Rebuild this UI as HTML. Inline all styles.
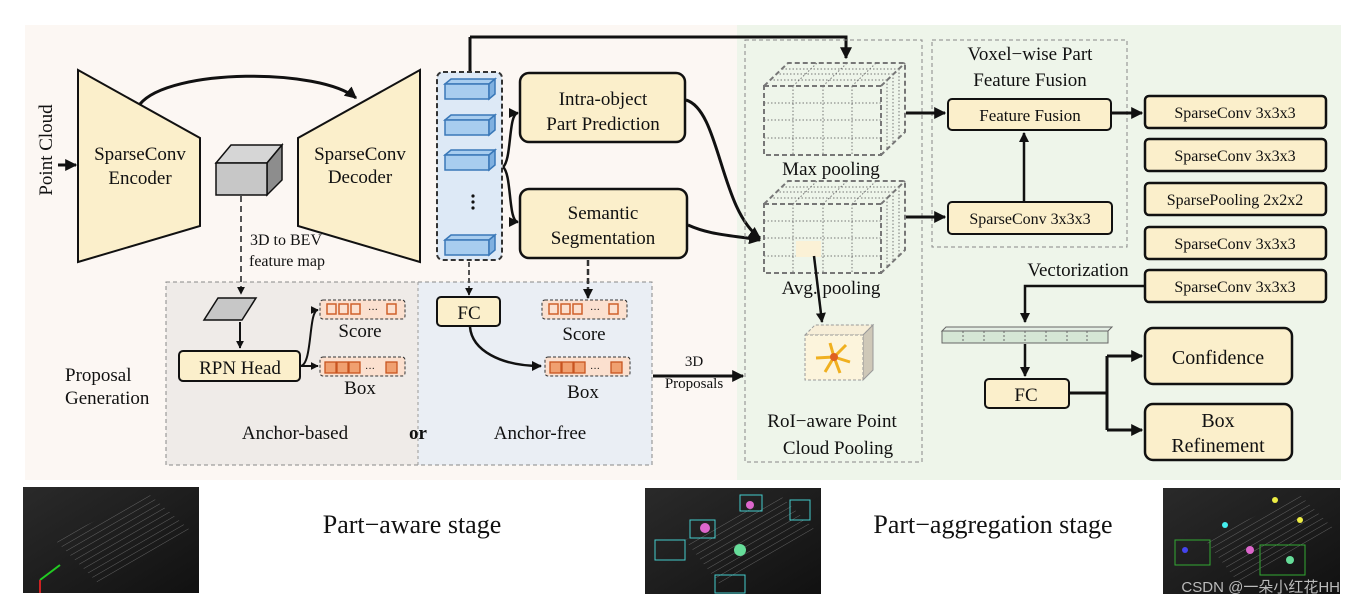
<!DOCTYPE html>
<html><head><meta charset="utf-8"><style>
html,body{margin:0;padding:0;background:#fff;width:1355px;height:608px;overflow:hidden}
svg text{font-family:"Liberation Serif","Noto Serif CJK SC",serif;fill:#111}
</style></head><body>
<svg width="1355" height="608" viewBox="0 0 1355 608" xmlns="http://www.w3.org/2000/svg">
<defs>
<marker id="a" viewBox="0 0 10 10" refX="9" refY="5" markerWidth="4" markerHeight="4" orient="auto"><path d="M0,0L10,5L0,10z" fill="#111"/></marker>
<linearGradient id="blk" x1="0" y1="0" x2="1" y2="1"><stop offset="0" stop-color="#2a2a2a"/><stop offset="1" stop-color="#111"/></linearGradient>
<pattern id="pc" width="6" height="6" patternUnits="userSpaceOnUse" patternTransform="rotate(-30)"><line x1="0" y1="0" x2="6" y2="0" stroke="#9a9a9a" stroke-width="1"/></pattern>
</defs>
<rect x="25" y="25" width="712" height="455" fill="#fcf7f3"/>
<rect x="737" y="25" width="604" height="455" fill="#eef5ea"/>
<rect x="166" y="282" width="252" height="183" fill="#efebe8"/>
<rect x="418" y="282" width="234" height="183" fill="#eaeef4"/>
<rect x="166" y="282" width="486" height="183" fill="none" stroke="#888" stroke-dasharray="4,3"/>
<line x1="418" y1="282" x2="418" y2="465" stroke="#999" stroke-dasharray="3,3"/>
<text transform="translate(52,150) rotate(-90)" text-anchor="middle" font-size="19">Point Cloud</text>
<line x1="58" y1="165" x2="76" y2="165" stroke="#111" stroke-width="3" marker-end="url(#a)"/>
<polygon points="78,70 200,138 200,226 78,262" fill="#fbefcb" stroke="#111" stroke-width="2"/>
<text x="140" y="160" text-anchor="middle" font-size="19">SparseConv</text>
<text x="140" y="184" text-anchor="middle" font-size="19">Encoder</text>
<polygon points="420,70 298,138 298,226 420,262" fill="#fbefcb" stroke="#111" stroke-width="2"/>
<text x="360" y="160" text-anchor="middle" font-size="19">SparseConv</text>
<text x="360" y="183" text-anchor="middle" font-size="19">Decoder</text>
<path d="M140,104 C170,68 320,68 356,98" fill="none" stroke="#111" stroke-width="3" marker-end="url(#a)"/>
<polygon points="216,163 231,145 282,145 267,163" fill="#d6d6d6" stroke="#111" stroke-width="1.5"/>
<polygon points="267,163 282,145 282,180 267,195" fill="#8d8d8d" stroke="#111" stroke-width="1.5"/>
<rect x="216" y="163" width="51" height="32" fill="#c7c7c7" stroke="#111" stroke-width="1.5"/>
<line x1="241" y1="196" x2="241" y2="294" stroke="#555" stroke-width="2" stroke-dasharray="6,4" marker-end="url(#a)"/>
<text x="250" y="245" font-size="16">3D to BEV</text>
<text x="249" y="266" font-size="16">feature map</text>
<polygon points="218,298 256,298 242,320 204,320" fill="#c7c7c7" stroke="#111" stroke-width="1.5"/>
<line x1="240" y1="322" x2="240" y2="348" stroke="#111" stroke-width="2" marker-end="url(#a)"/>
<rect x="179" y="351" width="121" height="30" rx="4" fill="#fbefcb" stroke="#111" stroke-width="2"/>
<text x="240" y="374" text-anchor="middle" font-size="19">RPN Head</text>
<path d="M300,366 C313,366 308,310 318,310" fill="none" stroke="#111" stroke-width="2" marker-end="url(#a)"/>
<line x1="300" y1="366" x2="318" y2="366" stroke="#111" stroke-width="2" marker-end="url(#a)"/>
<rect x="320" y="300" width="85" height="19" rx="3" fill="#fbe0cf" stroke="#333" stroke-dasharray="3,2"/>
<g fill="none" stroke="#d0602a" stroke-width="1.5"><rect x="327" y="304" width="9" height="10"/><rect x="339" y="304" width="9" height="10"/><rect x="351" y="304" width="9" height="10"/><rect x="387" y="304" width="9" height="10"/></g>
<text x="368" y="313" font-size="10">···</text>
<text x="360" y="337" text-anchor="middle" font-size="19">Score</text>
<rect x="320" y="357" width="85" height="19" rx="3" fill="#fbe0cf" stroke="#333" stroke-dasharray="3,2"/>
<g fill="#f0a070" stroke="#c85520" stroke-width="1.3"><rect x="325" y="362" width="11" height="11"/><rect x="337" y="362" width="11" height="11"/><rect x="349" y="362" width="11" height="11"/><rect x="386" y="362" width="11" height="11"/></g>
<text x="365" y="372" font-size="10">···</text>
<text x="360" y="394" text-anchor="middle" font-size="19">Box</text>
<text x="65" y="381" font-size="19">Proposal</text>
<text x="65" y="404" font-size="19">Generation</text>
<text x="295" y="439" text-anchor="middle" font-size="19">Anchor-based</text>
<text x="418" y="439" text-anchor="middle" font-size="19" font-weight="bold">or</text>
<text x="540" y="439" text-anchor="middle" font-size="19">Anchor-free</text>
<line x1="470" y1="72" x2="470" y2="37" stroke="#111" stroke-width="3"/>
<polyline points="470,37 846,37 846,58" fill="none" stroke="#111" stroke-width="3" marker-end="url(#a)"/>
<rect x="437" y="72" width="65" height="188" rx="6" fill="#dde9f6" stroke="#333" stroke-width="2" stroke-dasharray="5,3"/>
<g fill="#a8cdef" stroke="#3a78b8" stroke-width="1.5">
<polygon points="445,84 451,79 495,79 489,84"/><rect x="445" y="84" width="44" height="15"/><polygon points="489,84 495,79 495,94 489,99" fill="#7fb0e0"/>
<polygon points="445,120 451,115 495,115 489,120"/><rect x="445" y="120" width="44" height="15"/><polygon points="489,120 495,115 495,130 489,135" fill="#7fb0e0"/>
<polygon points="445,155 451,150 495,150 489,155"/><rect x="445" y="155" width="44" height="15"/><polygon points="489,155 495,150 495,165 489,170" fill="#7fb0e0"/>
<polygon points="445,240 451,235 495,235 489,240"/><rect x="445" y="240" width="44" height="15"/><polygon points="489,240 495,235 495,250 489,255" fill="#7fb0e0"/>
</g>
<circle cx="473" cy="196" r="1.6" fill="#111"/><circle cx="473" cy="202" r="1.6" fill="#111"/><circle cx="473" cy="208" r="1.6" fill="#111"/>
<path d="M503,167 C512,160 508,113 518,113" fill="none" stroke="#111" stroke-width="2.5" marker-end="url(#a)"/>
<path d="M503,167 C512,174 508,222 518,222" fill="none" stroke="#111" stroke-width="2.5" marker-end="url(#a)"/>
<rect x="520" y="73" width="165" height="69" rx="9" fill="#fbefcb" stroke="#111" stroke-width="2.5"/>
<text x="603" y="105" text-anchor="middle" font-size="19">Intra-object</text>
<text x="603" y="130" text-anchor="middle" font-size="19">Part Prediction</text>
<rect x="520" y="189" width="167" height="69" rx="9" fill="#fbefcb" stroke="#111" stroke-width="2.5"/>
<text x="603" y="219" text-anchor="middle" font-size="19">Semantic</text>
<text x="603" y="244" text-anchor="middle" font-size="19">Segmentation</text>
<line x1="469" y1="262" x2="469" y2="295" stroke="#555" stroke-width="2" stroke-dasharray="5,3" marker-end="url(#a)"/>
<rect x="437" y="297" width="63" height="29" rx="4" fill="#fbefcb" stroke="#111" stroke-width="2"/>
<text x="469" y="319" text-anchor="middle" font-size="19">FC</text>
<line x1="588" y1="260" x2="588" y2="298" stroke="#333" stroke-width="2.5" stroke-dasharray="6,3" marker-end="url(#a)"/>
<rect x="542" y="300" width="85" height="19" rx="3" fill="#fbe0cf" stroke="#333" stroke-dasharray="3,2"/>
<g fill="none" stroke="#d0602a" stroke-width="1.5"><rect x="549" y="304" width="9" height="10"/><rect x="561" y="304" width="9" height="10"/><rect x="573" y="304" width="9" height="10"/><rect x="609" y="304" width="9" height="10"/></g>
<text x="590" y="313" font-size="10">···</text>
<text x="584" y="340" text-anchor="middle" font-size="19">Score</text>
<path d="M470,327 C472,350 500,366 541,366" fill="none" stroke="#111" stroke-width="2.5" marker-end="url(#a)"/>
<rect x="545" y="357" width="85" height="19" rx="3" fill="#fbe0cf" stroke="#333" stroke-dasharray="3,2"/>
<g fill="#f0a070" stroke="#c85520" stroke-width="1.3"><rect x="550" y="362" width="11" height="11"/><rect x="562" y="362" width="11" height="11"/><rect x="574" y="362" width="11" height="11"/><rect x="611" y="362" width="11" height="11"/></g>
<text x="590" y="372" font-size="10">···</text>
<text x="583" y="398" text-anchor="middle" font-size="19">Box</text>
<line x1="653" y1="376" x2="743" y2="376" stroke="#111" stroke-width="3" marker-end="url(#a)"/>
<text x="694" y="366" text-anchor="middle" font-size="15">3D</text>
<text x="694" y="388" text-anchor="middle" font-size="15">Proposals</text>
<path d="M686,100 C720,110 720,210 760,238" fill="none" stroke="#111" stroke-width="3" marker-end="url(#a)"/>
<path d="M688,225 C710,235 730,235 760,240" fill="none" stroke="#111" stroke-width="3" marker-end="url(#a)"/>
<rect x="745" y="40" width="177" height="422" fill="none" stroke="#888" stroke-dasharray="4,3"/>
<rect x="932" y="40" width="195" height="207" fill="none" stroke="#888" stroke-dasharray="4,3"/>
<g id="cube1" fill="none" stroke="#777">
<g stroke-width="2" stroke-dasharray="5,3">
<rect x="764" y="86" width="117" height="69"/>
<polyline points="764,86 788,63 905,63 905,132 881,155"/>
<line x1="881" y1="86" x2="905" y2="63"/>
</g>
<g stroke-width="1" stroke-dasharray="1.5,2">
<line x1="793" y1="86" x2="793" y2="155"/><line x1="823" y1="86" x2="823" y2="155"/><line x1="852" y1="86" x2="852" y2="155"/>
<line x1="764" y1="103" x2="881" y2="103"/><line x1="764" y1="120" x2="881" y2="120"/><line x1="764" y1="138" x2="881" y2="138"/>
<line x1="770" y1="80" x2="887" y2="80"/><line x1="776" y1="74" x2="893" y2="74"/><line x1="782" y1="69" x2="899" y2="69"/>
<line x1="793" y1="86" x2="817" y2="63"/><line x1="823" y1="86" x2="847" y2="63"/><line x1="852" y1="86" x2="876" y2="63"/>
<line x1="887" y1="80" x2="887" y2="149"/><line x1="893" y1="74" x2="893" y2="143"/><line x1="899" y1="69" x2="899" y2="138"/>
</g></g>
<use href="#cube1" y="118"/>
<rect x="796" y="241" width="25" height="16" fill="#fbf1d6"/>
<text x="831" y="175" text-anchor="middle" font-size="19">Max pooling</text>
<text x="831" y="294" text-anchor="middle" font-size="19">Avg. pooling</text>
<line x1="814" y1="256" x2="822" y2="322" stroke="#111" stroke-width="2.5" marker-end="url(#a)"/>
<polygon points="805,335 815,325 873,325 863,335" fill="#f7eed8" stroke="#999" stroke-dasharray="3,2"/>
<polygon points="863,335 873,325 873,370 863,380" fill="#cfc8b8" stroke="#999"/>
<rect x="805" y="335" width="58" height="45" fill="#fcf4dc" stroke="#999" stroke-dasharray="3,2"/>
<g stroke="#f0b020" stroke-width="3"><line x1="834" y1="357" x2="816" y2="358"/><line x1="834" y1="357" x2="846" y2="345"/><line x1="834" y1="357" x2="850" y2="362"/><line x1="834" y1="357" x2="825" y2="372"/><line x1="834" y1="357" x2="840" y2="373"/><line x1="834" y1="357" x2="830" y2="343"/></g>
<circle cx="834" cy="357" r="4" fill="#e06020"/>
<text x="832" y="427" text-anchor="middle" font-size="19">RoI−aware Point</text>
<text x="838" y="454" text-anchor="middle" font-size="19">Cloud Pooling</text>
<text x="1030" y="60" text-anchor="middle" font-size="19">Voxel−wise Part</text>
<text x="1030" y="86" text-anchor="middle" font-size="19">Feature Fusion</text>
<line x1="906" y1="113" x2="945" y2="113" stroke="#111" stroke-width="3" marker-end="url(#a)"/>
<line x1="906" y1="217" x2="945" y2="217" stroke="#111" stroke-width="3" marker-end="url(#a)"/>
<rect x="948" y="99" width="163" height="31" rx="4" fill="#fbefcb" stroke="#111" stroke-width="2"/>
<text x="1030" y="121" text-anchor="middle" font-size="17">Feature Fusion</text>
<rect x="948" y="202" width="164" height="32" rx="4" fill="#fbefcb" stroke="#111" stroke-width="2"/>
<text x="1030" y="224" text-anchor="middle" font-size="16">SparseConv 3x3x3</text>
<line x1="1024" y1="201" x2="1024" y2="133" stroke="#111" stroke-width="2.5" marker-end="url(#a)"/>
<line x1="1111" y1="113" x2="1142" y2="113" stroke="#111" stroke-width="3" marker-end="url(#a)"/>
<g fill="#fbefcb" stroke="#111" stroke-width="2.5">
<rect x="1145" y="96" width="181" height="32" rx="4"/><rect x="1145" y="139" width="181" height="32" rx="4"/><rect x="1145" y="183" width="181" height="32" rx="4"/><rect x="1145" y="227" width="181" height="32" rx="4"/><rect x="1145" y="270" width="181" height="32" rx="4"/>
</g>
<g font-size="16" text-anchor="middle">
<text x="1235" y="118">SparseConv 3x3x3</text><text x="1235" y="161">SparseConv 3x3x3</text><text x="1235" y="205">SparsePooling 2x2x2</text><text x="1235" y="249">SparseConv 3x3x3</text><text x="1235" y="292">SparseConv 3x3x3</text>
</g>
<text x="1078" y="276" text-anchor="middle" font-size="19">Vectorization</text>
<polyline points="1145,286 1025,286 1025,322" fill="none" stroke="#111" stroke-width="2.5" marker-end="url(#a)"/>
<polygon points="942,331 946,327 1112,327 1108,331" fill="#e4eee4" stroke="#666"/>
<rect x="942" y="331" width="166" height="12" fill="#d5e6d5" stroke="#666"/>
<g stroke="#666" stroke-dasharray="2,2"><line x1="963" y1="331" x2="963" y2="343"/><line x1="984" y1="331" x2="984" y2="343"/><line x1="1004" y1="331" x2="1004" y2="343"/><line x1="1025" y1="331" x2="1025" y2="343"/><line x1="1046" y1="331" x2="1046" y2="343"/><line x1="1067" y1="331" x2="1067" y2="343"/><line x1="1087" y1="331" x2="1087" y2="343"/></g>
<line x1="1025" y1="344" x2="1025" y2="376" stroke="#111" stroke-width="2.5" marker-end="url(#a)"/>
<rect x="985" y="379" width="84" height="29" rx="4" fill="#fbefcb" stroke="#111" stroke-width="2"/>
<text x="1026" y="401" text-anchor="middle" font-size="19">FC</text>
<polyline points="1069,393 1107,393" fill="none" stroke="#111" stroke-width="3"/>
<polyline points="1107,356 1107,430" fill="none" stroke="#111" stroke-width="3"/>
<line x1="1107" y1="356" x2="1142" y2="356" stroke="#111" stroke-width="3" marker-end="url(#a)"/>
<line x1="1107" y1="430" x2="1142" y2="430" stroke="#111" stroke-width="3" marker-end="url(#a)"/>
<rect x="1145" y="328" width="147" height="56" rx="8" fill="#fbefcb" stroke="#111" stroke-width="2.5"/>
<text x="1218" y="364" text-anchor="middle" font-size="20">Confidence</text>
<rect x="1145" y="404" width="147" height="56" rx="8" fill="#fbefcb" stroke="#111" stroke-width="2.5"/>
<text x="1218" y="427" text-anchor="middle" font-size="20">Box</text>
<text x="1218" y="452" text-anchor="middle" font-size="20">Refinement</text>
<!-- bottom images -->
<rect x="23" y="487" width="176" height="106" fill="url(#blk)"/>
<polygon points="55,540 150,495 190,530 100,585" fill="url(#pc)" opacity="0.55"/>
<line x1="40" y1="580" x2="60" y2="565" stroke="#2c2" stroke-width="2"/><line x1="40" y1="580" x2="40" y2="593" stroke="#c22" stroke-width="2"/>
<rect x="645" y="488" width="176" height="106" fill="url(#blk)"/>
<polygon points="685,540 780,495 815,530 720,585" fill="url(#pc)" opacity="0.55"/>
<g fill="none" stroke="#4cc" stroke-width="1"><rect x="655" y="540" width="30" height="20"/><rect x="690" y="520" width="25" height="18"/><rect x="740" y="495" width="22" height="16"/><rect x="790" y="500" width="20" height="20"/><rect x="715" y="575" width="30" height="18"/></g>
<g fill="#d6c"><circle cx="705" cy="528" r="5"/><circle cx="750" cy="505" r="4"/><circle cx="740" cy="550" r="6" fill="#6d9"/></g>
<rect x="1163" y="488" width="177" height="106" fill="url(#blk)"/>
<polygon points="1205,540 1300,495 1335,530 1240,585" fill="url(#pc)" opacity="0.55"/>
<g fill="none" stroke="#3a3" stroke-width="1"><rect x="1175" y="540" width="35" height="25"/><rect x="1260" y="545" width="45" height="30"/></g>
<g><circle cx="1275" cy="500" r="3" fill="#ee4"/><circle cx="1225" cy="525" r="3" fill="#4ee"/><circle cx="1185" cy="550" r="3" fill="#44e"/><circle cx="1250" cy="550" r="4" fill="#d6c"/><circle cx="1300" cy="520" r="3" fill="#ee4"/><circle cx="1290" cy="560" r="4" fill="#6d9"/></g>
<text x="412" y="533" text-anchor="middle" font-size="26">Part−aware stage</text>
<text x="993" y="533" text-anchor="middle" font-size="26">Part−aggregation stage</text>
<text x="1340" y="592" text-anchor="end" font-size="15" style="font-family:'Liberation Sans','Noto Sans CJK SC',sans-serif;fill:#bbb">CSDN @一朵小红花HH</text>
</svg>
</body></html>
